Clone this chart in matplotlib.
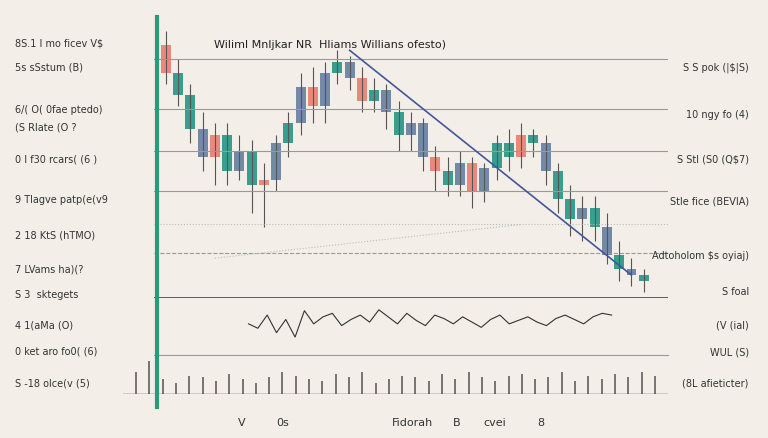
import matplotlib
matplotlib.use("Agg")
import matplotlib.pyplot as plt

opens  = [90,80,72,60,50,58,45,52,40,42,55,62,75,68,80,84,78,70,74,66,58,62,50,45,40,48,38,46,55,50,58,55,45,35,28,32,25,15,10,8]
closes = [80,72,60,50,58,45,52,40,42,55,62,75,68,80,84,78,70,74,66,58,62,50,45,40,48,38,46,55,50,58,55,45,35,28,32,25,15,10,8,6]
highs  = [95,85,76,66,62,62,58,56,48,58,66,80,82,84,88,86,82,78,76,70,66,64,54,50,52,50,48,58,60,62,60,58,48,40,36,36,30,20,14,10]
lows   = [76,68,55,45,40,40,42,30,25,38,50,58,62,62,76,74,66,66,60,52,52,45,38,36,36,32,34,42,45,46,50,40,30,22,20,20,12,6,4,2]
colors = ["#e8897a","#3a9e8f","#3a9e8f","#7289a8","#e8897a","#3a9e8f","#7289a8","#3a9e8f","#e8897a","#7289a8",
          "#3a9e8f","#7289a8","#e8897a","#7289a8","#3a9e8f","#7289a8","#e8897a","#3a9e8f","#7289a8","#3a9e8f",
          "#7289a8","#7289a8","#e8897a","#3a9e8f","#7289a8","#e8897a","#7289a8","#3a9e8f","#3a9e8f","#e8897a",
          "#3a9e8f","#7289a8","#3a9e8f","#3a9e8f","#7289a8","#3a9e8f","#7289a8","#3a9e8f","#7289a8","#3a9e8f"]
osc = [50,45,60,40,55,35,65,50,58,62,48,55,60,52,66,58,50,62,54,48,60,56,50,58,52,46,55,60,50,54,58,52,48,56,60,55,50,58,62,60]
vol = [60,90,40,30,50,45,35,55,40,30,45,60,50,40,35,55,45,60,30,40,50,45,35,55,40,60,45,35,50,55,40,45,60,35,50,40,55,45,60,50]
left_labels = ["8S.1 I mo ficev V$","5s sSstum (B)","6/( O( 0fae ptedo)","(S Rlate (O ?","0 I f30 rcars( (6 )",
               "9 Tlagve patp(e(v9","2 18 KtS (hTMO)","7 LVams ha)(?","S 3  sktegets","4 1(aMa (O)","0 ket aro fo0( (6)","S -18 olce(v (5)"]
left_y = [44,68,110,128,160,200,236,270,295,325,352,384]
right_labels = ["S S pok (|$|S)","10 ngy fo (4)","S Stl (S0 (Q$7)","Stle fice (BEVIA)","Adtoholom $s oyiaj)","S foal",
                "(V (ial)","WUL (S)","(8L afieticter)"]
right_y = [68,115,160,202,256,292,325,353,384]

fig = plt.figure(figsize=(7.68,4.39), dpi=100)
bg = "#f3efe8"
fig.patch.set_facecolor(bg)

ax = fig.add_axes([0.2, 0.32, 0.67, 0.64])
ax.set_facecolor(bg)
xs = range(len(opens))
for i in xs:
    ax.vlines(i, lows[i], highs[i], color="#555", lw=0.8)
    b = min(opens[i], closes[i]); h = abs(opens[i]-closes[i])
    ax.bar(i, h, bottom=b, width=0.8, color=colors[i])
for y in [85, 67, 52, 38]:
    ax.axhline(y, color="#999", lw=0.8)
ax.axhline(26, color="#bbb", lw=0.8, ls=":")
ax.axhline(16, color="#999", lw=0.8, ls="--")
ax.axhline(0, color="#444", lw=1.2)
ax.plot([15, 38], [88, 8], color="#44559a", lw=1.2)
ax.plot([4, 29], [14, 26], color="#bbb", lw=0.8, ls=":")
ax.set_xlim(-1, 41); ax.set_ylim(0, 100)
ax.axis("off")

ax2 = fig.add_axes([0.3, 0.2, 0.52, 0.12])
ax2.set_facecolor(bg)
ax2.plot(range(len(osc)), osc, color="#333", lw=0.8)
ax2.set_ylim(20, 80); ax2.axis("off")

ax3 = fig.add_axes([0.16, 0.1, 0.71, 0.08])
ax3.set_facecolor(bg)
ax3.bar(range(len(vol)), vol, width=0.15, color="#777")
ax3.axhline(0, color="#444", lw=1)
ax3.set_xlim(-1, len(vol)); ax3.axis("off")
fig.add_artist(plt.Line2D([0.2, 0.87], [0.19, 0.19], color="#999", lw=0.8))

fig.add_artist(plt.Line2D([0.205, 0.205], [0.07, 0.96], color="#2a9a7a", lw=3))

fig.text(0.43, 1 - 45/439, "Wiliml Mnljkar NR  Hliams Willians ofesto)", fontsize=8, ha="center", va="center", color="#222")
for t, y in zip(left_labels, left_y):
    fig.text(0.02, 1 - y/439, t, fontsize=7, color="#333", va="center")
for t, y in zip(right_labels, right_y):
    fig.text(0.975, 1 - y/439, t, fontsize=7, color="#333", va="center", ha="right")
for t, x in zip(["V", "0s", "Fidorah", "B", "cvei", "8"], [0.31, 0.36, 0.51, 0.59, 0.63, 0.7]):
    fig.text(x, 0.03, t, fontsize=8, color="#333")
fig.savefig("out.png", dpi=100, facecolor=bg)
